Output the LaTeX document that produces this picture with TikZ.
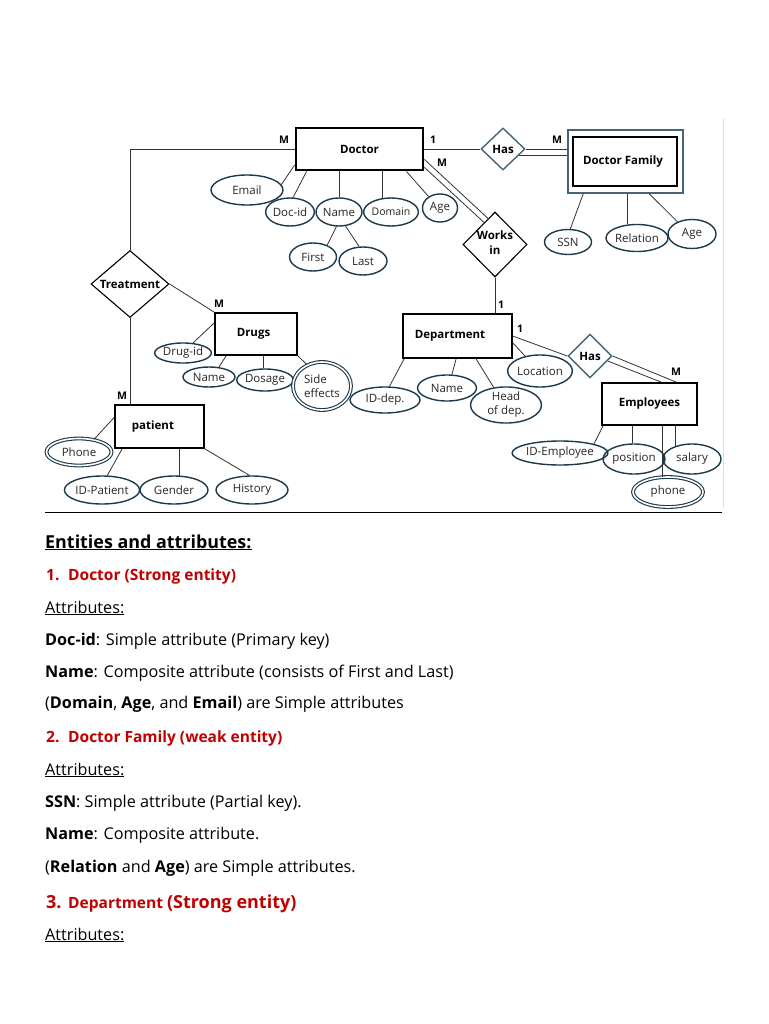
\documentclass[tikz,border=0pt]{standalone}
\usepackage{fontspec}
\setmainfont{Open Sans}
\usetikzlibrary{shapes.geometric,calc}
\definecolor{ellcol}{RGB}{28,58,76}
\definecolor{steel}{RGB}{70,100,120}
\definecolor{hred}{RGB}{192,0,0}
\begin{document}
\begin{tikzpicture}[x=1pt,y=-1pt,
  attr/.style={ellipse, draw=ellcol, line width=1.4, inner sep=0, font=\fontsize{11.5}{14}\selectfont, text=black!85},
  mattr/.style={attr, double=white, double distance=1.6, line width=1.1},
  ent/.style={rectangle, draw=black, line width=1.8, inner sep=0, font=\bfseries\fontsize{11.5}{14}\selectfont},
  rel/.style={diamond, draw=black, line width=1.1, inner sep=0, font=\bfseries\fontsize{11.5}{14}\selectfont},
  card/.style={inner sep=0, font=\bfseries\fontsize{10.5}{12}\selectfont},
  conn/.style={draw=black!80, line width=0.8},
  txt/.style={anchor=base west, inner sep=0, font=\fontsize{16.2}{19}\selectfont},
  redhead/.style={txt, text=hred, font=\bfseries\fontsize{15.5}{18}\selectfont}]
\useasboundingbox (0,0) rectangle (768,1024);
\fill[white] (0,0) rectangle (768,1024);
\draw[black!12, line width=0.8] (723,118) -- (723,508);

% entities
\node[ent, line width=2.8, minimum width=127, minimum height=42] (doctor) at (359.5,149) {Doctor};
\node[draw=steel, line width=1.5, minimum width=115, minimum height=63, inner sep=0] (famout) at (625.5,161.5) {};
\node[ent, line width=2.2, minimum width=104, minimum height=49] (fam) at (625,161.5) {\hspace*{-4pt}Doctor Family};
\node[ent, minimum width=82, minimum height=42] (drugs) at (256,334) {\hspace*{-5pt}Drugs};
\node[ent, minimum width=89, minimum height=43] (patient) at (159.5,426.5) {\hspace*{-13pt}patient};
\node[ent, minimum width=109, minimum height=44] (dept) at (457.5,336) {\hspace*{-15pt}Department};
\node[ent, minimum width=95, minimum height=42] (emp) at (649.5,404) {Employees};

% relationships
\node[rel, minimum width=78, minimum height=67] (treat) at (130,284) {\makebox[0pt]{Treatment}};
\node[rel, draw=steel, line width=1.4, minimum width=44, minimum height=42] (has1) at (503,149) {\makebox[0pt]{Has}};
\node[rel, minimum width=64, minimum height=65] (works) at (495,244.5) {\makebox[0pt]{\raisebox{-4pt}{\begin{tabular}{@{}c@{}}Works\\[1pt]in\end{tabular}}}};
\node[rel, draw=steel, line width=1.4, minimum width=44, minimum height=44] (has2) at (590,356) {\makebox[0pt]{Has}};

% attributes
\node[attr, minimum width=72, minimum height=30] (email) at (247,190) {Email};
\node[attr, minimum width=47, minimum height=28] (docid) at (290,212) {Doc-id};
\node[attr, minimum width=46, minimum height=28] (dname) at (339,212) {Name};
\node[attr, minimum width=54, minimum height=28, font=\fontsize{10.5}{13}\selectfont] (domain) at (391,212) {Domain};
\node[attr, minimum width=35, minimum height=28] (dage) at (440,208) {Age};
\node[attr, minimum width=47, minimum height=28] (first) at (313,257) {First};
\node[attr, minimum width=48, minimum height=28] (last) at (363,261) {Last};
\node[attr, minimum width=47, minimum height=25] (ssn) at (568,242) {SSN};
\node[attr, minimum width=57, minimum height=27] (relation) at (637,238) {Relation};
\node[attr, minimum width=48, minimum height=29] (fage) at (692,234) {Age};
\node[attr, minimum width=50, minimum height=20] (drugid) at (183,353) {Drug-id};
\node[attr, minimum width=52, minimum height=20] (drname) at (209,377) {Name};
\node[attr, minimum width=50, minimum height=22] (dosage) at (265,380) {Dosage};
\node[mattr, minimum width=58, minimum height=48, align=left] (side) at (322,386) {Side\\effects};
\node[mattr, minimum width=65, minimum height=27] (phone) at (79,452) {Phone};
\node[attr, minimum width=70, minimum height=28] (idp) at (102,490) {ID-Patient};
\node[attr, minimum width=68, minimum height=28] (gender) at (174,490) {Gender};
\node[attr, minimum width=72, minimum height=28] (history) at (252,490) {History};
\node[attr, minimum width=70, minimum height=26] (iddep) at (385,400) {ID-dep.};
\node[attr, minimum width=59, minimum height=26] (dpname) at (447,388) {Name};
\node[attr, minimum width=71, minimum height=36, align=center] (head) at (506,405) {Head\\of dep.};
\node[attr, minimum width=64, minimum height=32] (loc) at (540,371) {Location};
\node[attr, minimum width=86, minimum height=24] (idemp) at (560,453) {ID-Employee};
\node[attr, minimum width=62, minimum height=30] (position) at (634,459) {position};
\node[attr, minimum width=58, minimum height=30] (salary) at (692,459) {salary};
\node[mattr, minimum width=70, minimum height=30] (ephone) at (668,492) {phone};

% cardinalities
\node[card] (c1) at (284,140) {M};
\node[card] (c2) at (433,140) {1};
\node[card] (c3) at (557,140) {M};
\node[card] (c4) at (442,163) {M};
\node[card] (c5) at (219,304) {M};
\node[card] (c6) at (122,396) {M};
\node[card] (c7) at (501,305) {1};
\node[card] (c8) at (520,329) {1};
\node[card] (c9) at (676,372) {M};

% relationship connectors
\draw[conn] (doctor.west) -| (treat.north);
\draw[conn] (treat.east) -- (drugs.north west);
\draw[conn] (treat.south) -- (treat.south |- patient.north);
\draw[conn] (doctor.east) -- (has1.west);
\draw[conn] (has1.east) -- (has1.east -| famout.west);
\draw[conn] ($(has1.east)+(-6.3,6)$) -- ($(has1.east -| famout.west)+(0,6)$);
\draw[conn] ($(doctor.south east)+(0,-12)$) -- ($(works.north)+(-7,7)$);
\draw[conn] ($(doctor.south east)+(0,-4)$) -- ($(works.north)+(-11,11)$);
\draw[conn] (works.south) -- (works.south |- dept.north);
\draw[conn] ($(dept.north east)+(0,23)$) -- (has2.west);
\draw[conn] (has2.east) -- ($(emp.north west)+(75,0)$);
\draw[conn] ($(has2.east)+(-5,5)$) -- ($(emp.north west)+(60,0)$);

% attribute connectors
\draw[conn] ($(doctor.west)+(0,16)$) -- (email.9);
\draw[conn] ($(doctor.south west)+(12,0)$) -- (docid.78);
\draw[conn] (dname.north) -- (dname.north |- doctor.south);
\draw[conn] (domain.120) -- (domain.120 |- doctor.south);
\draw[conn] ($(doctor.south east)+(-18,0)$) -- (dage.135);
\draw[conn] (dname.-100) -- (first.40);
\draw[conn] (dname.-65) -- (last.105);
\draw[conn] ($(famout.south west)+(16,0)$) -- (ssn.80);
\draw[conn] (relation.125) -- (relation.125 |- famout.south);
\draw[conn] ($(famout.south west)+(82,0)$) -- (fage.140);
\draw[conn] ($(drugs.west)+(0,-11)$) -- (drugid.45);
\draw[conn] ($(drugs.south west)+(12,0)$) -- (drname.45);
\draw[conn] (dosage.100) -- (dosage.100 |- drugs.south);
\draw[conn] (drugs.south east) -- (side.125);
\draw[conn] ($(patient.west)+(0,-9)$) -- (phone.40);
\draw[conn] ($(patient.south west)+(8,0)$) -- (idp.70);
\draw[conn] (gender.68) -- (gender.68 |- patient.south);
\draw[conn] (patient.south east) -- (history.100);
\draw[conn] ($(dept.south west)+(2,0)$) -- (iddep.72);
\draw[conn] ($(dept.south west)+(54,0)$) -- (dpname.70);
\draw[conn] ($(dept.south west)+(74,0)$) -- (head.125);
\draw[conn] ($(dept.east)+(0,7)$) -- (loc.135);
\draw[conn] ($(emp.south west)+(2,0)$) -- (idemp.15);
\draw[conn] (position.95) -- (position.95 |- emp.south);
\draw[conn] (salary.142) -- (salary.142 |- emp.south);
\draw[conn] (ephone.110) -- (ephone.110 |- emp.south);

% separator
\draw[black, line width=0.8] (45,512) -- (722,512);

% text
\node[txt, font=\bfseries\fontsize{17.9}{21}\selectfont] (t0) at (45,548) {\underline{Entities and attributes:}};
\node[redhead] (t1) at (46,580) {\makebox[22pt][l]{1.}Doctor (Strong entity)};
\node[txt] (t2) at (45,613) {\underline{Attributes:}};
\node[txt] (t3) at (45,645) {\textbf{Doc-id}: Simple attribute (Primary key)};
\node[txt] (t4) at (45,677) {\textbf{Name}: Composite attribute (consists of First and Last)};
\node[txt] (t5) at (45,708) {(\textbf{Domain}, \textbf{Age}, and \textbf{Email}) are Simple attributes};
\node[redhead] (t6) at (46,742) {\makebox[22pt][l]{2.}Doctor Family (weak entity)};
\node[txt] (t7) at (45,775) {\underline{Attributes:}};
\node[txt] (t8) at (45,807) {\textbf{SSN}: Simple attribute (Partial key).};
\node[txt] (t9) at (45,839) {\textbf{Name}: Composite attribute.};
\node[txt] (t10) at (45,872) {(\textbf{Relation} and \textbf{Age}) are Simple attributes.};
\node[redhead] (t11) at (46,908) {\makebox[22pt][l]{\fontsize{18}{21}\selectfont 3.}Department {\fontsize{18}{21}\selectfont (Strong entity)}};
\node[txt] (t12) at (45,940) {\underline{Attributes:}};
\end{tikzpicture}
\end{document}
